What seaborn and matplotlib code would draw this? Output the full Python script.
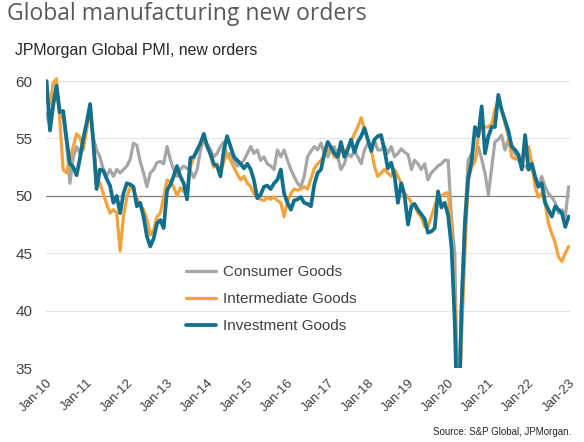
import pandas as pd
import numpy as np
import matplotlib
matplotlib.use("Agg")
import matplotlib.pyplot as plt
import matplotlib.dates as mdates
import seaborn as sns

# Monthly new orders indices, Jan 2010 - Jan 2023
consumer = (
    [57.2, 56.0, 58.6, 59.2, 57.0, 56.8, 54.6, 51.1, 53.4, 54.3, 53.7, 55.0]
    + [56.0, 57.2, 55.1, 54.0, 53.4, 52.3, 51.7, 52.3, 51.7, 52.3, 52.0, 52.3]
    + [52.6, 53.2, 54.6, 54.4, 53.0, 52.0, 50.8, 52.0, 52.3, 52.9, 53.0, 52.8]
    + [54.3, 53.1, 52.3, 51.7, 52.3, 52.6, 52.4, 52.2, 51.6, 52.3, 54.0, 54.9]
    + [54.5, 54.0, 53.4, 53.7, 54.3, 54.7, 53.4, 53.7, 53.1, 52.6, 52.8, 53.1]
    + [53.7, 54.3, 53.7, 54.0, 53.1, 53.4, 52.8, 52.6, 52.3, 54.0, 53.4, 54.0]
    + [53.1, 52.3, 51.7, 51.1, 50.8, 51.7, 53.4, 53.9, 54.3, 54.0, 54.6, 53.7]
    + [53.4, 54.0, 54.3, 53.4, 52.3, 52.8, 53.7, 53.4, 53.9, 53.4, 52.8, 54.0]
    + [54.6, 54.3, 54.9, 54.0, 54.0, 54.3, 53.7, 54.3, 53.4, 53.7, 54.1, 53.8]
    + [53.6, 52.3, 53.1, 52.8, 52.3, 52.8, 51.4, 52.0, 52.3, 52.6, 52.8, 53.1]
    + [53.1, 48.0, 45.0, 30.5, 41.0, 48.0, 53.1, 53.7, 53.1, 54.3, 53.2, 52.0]
    + [50.1, 52.5, 54.7, 54.9, 55.3, 54.0, 54.9, 54.0, 53.7, 53.1, 52.7, 52.6]
    + [52.3, 52.3, 51.7, 50.8, 51.7, 50.8, 50.2, 49.9, 49.4, 48.5, 48.8, 48.2]
    + [50.8]
)
intermediate = (
    [58.6, 58.0, 59.8, 60.2, 56.6, 52.3, 52.0, 53.2, 54.3, 55.4, 55.1, 54.0]
    + [55.8, 57.5, 55.0, 51.7, 51.1, 50.2, 49.3, 48.5, 48.8, 48.5, 45.2, 48.2]
    + [49.9, 50.8, 50.5, 49.8, 49.2, 48.8, 48.0, 46.6, 47.0, 48.2, 48.5, 49.9]
    + [51.4, 51.2, 50.8, 50.0, 50.7, 50.4, 50.0, 52.5, 53.4, 54.0, 54.5, 54.9]
    + [54.3, 53.5, 52.5, 52.8, 52.0, 53.0, 53.7, 53.1, 52.5, 51.9, 51.4, 51.7]
    + [51.1, 50.8, 50.2, 49.9, 49.7, 49.6, 49.9, 49.7, 49.9, 49.6, 49.4, 48.2]
    + [49.5, 50.2, 50.6, 50.5, 50.6, 50.8, 50.6, 51.5, 52.4, 52.8, 53.1, 53.5]
    + [53.9, 54.2, 53.4, 53.3, 54.0, 53.8, 54.2, 54.7, 55.4, 56.0, 56.8, 55.8]
    + [54.9, 54.0, 52.6, 51.7, 52.0, 52.3, 52.0, 51.7, 52.3, 51.7, 51.1, 50.2]
    + [49.9, 49.4, 49.1, 48.5, 48.2, 47.3, 47.3, 48.2, 49.1, 50.0, 50.0, 50.2]
    + [50.3, 47.0, 41.0, 29.0, 37.5, 45.0, 51.3, 52.5, 53.0, 55.2, 56.3, 56.0]
    + [56.0, 56.3, 57.5, 58.3, 57.5, 56.3, 55.2, 53.4, 53.2, 53.4, 52.6, 53.7]
    + [54.3, 52.8, 50.8, 49.9, 50.2, 49.4, 47.6, 46.7, 45.9, 44.7, 44.3, 45.0]
    + [45.6]
)
investment = (
    [60.0, 55.7, 57.8, 59.6, 57.3, 57.4, 55.0, 52.8, 52.5, 51.8, 53.3, 55.0]
    + [56.4, 58.0, 54.8, 50.6, 52.3, 52.2, 51.5, 50.9, 49.4, 50.0, 48.5, 50.2]
    + [51.1, 51.0, 50.8, 49.1, 49.4, 48.2, 46.5, 45.6, 46.3, 47.6, 47.9, 47.2]
    + [50.5, 51.0, 51.7, 52.6, 51.7, 51.1, 49.7, 53.3, 53.4, 54.0, 54.6, 55.4]
    + [54.3, 53.6, 52.8, 52.6, 51.7, 54.0, 55.2, 54.3, 53.4, 53.1, 52.8, 52.4]
    + [52.8, 52.3, 51.4, 49.8, 50.1, 50.8, 50.9, 50.6, 51.1, 51.4, 52.3, 50.2]
    + [49.4, 48.8, 49.6, 49.7, 49.9, 49.4, 49.3, 49.1, 51.0, 52.0, 52.3, 53.7]
    + [54.7, 54.2, 53.7, 53.4, 54.7, 53.4, 54.0, 54.9, 53.8, 54.7, 55.2, 55.9]
    + [54.9, 53.9, 54.9, 55.2, 55.3, 54.0, 52.4, 52.9, 51.7, 49.4, 51.1, 50.0]
    + [47.5, 49.1, 49.3, 48.8, 48.4, 48.0, 46.8, 46.9, 47.2, 50.4, 49.0, 49.4]
    + [48.3, 45.5, 39.0, 27.5, 40.0, 47.5, 51.5, 53.0, 56.0, 55.2, 57.8, 53.7]
    + [55.2, 56.0, 56.0, 58.8, 57.5, 56.6, 55.7, 54.3, 54.0, 53.6, 52.3, 55.3]
    + [52.3, 52.8, 51.7, 50.8, 51.1, 49.4, 48.8, 48.2, 49.1, 48.8, 48.5, 47.3]
    + [48.2]
)
dates = pd.date_range("2010-01-01", periods=len(investment), freq="MS")
series_names = ["Consumer Goods", "Intermediate Goods", "Investment Goods"]
y_ticks = [35, 40, 45, 50, 55, 60]

df = pd.DataFrame({
    "date": np.tile(dates, 3),
    "value": consumer + intermediate + investment,
    "series": np.repeat(series_names, len(dates)),
})

sns.set_style("white")
plt.rcParams["font.family"] = ["Liberation Sans", "DejaVu Sans"]

colors = {"Consumer Goods": "#A6A6A6",
          "Intermediate Goods": "#F3A33C",
          "Investment Goods": "#12708C"}
widths = {"Consumer Goods": 2.3, "Intermediate Goods": 2.3, "Investment Goods": 2.7}

fig = plt.figure(figsize=(5.84, 4.42), dpi=100)
ax = fig.add_axes([0.079, 0.167, 0.897, 0.66])

# gridlines
for t in y_ticks:
    if t == 50:
        ax.axhline(t, color="#7F7F7F", lw=0.9, zorder=1)
    else:
        ax.axhline(t, color="#E3E3E3", lw=0.8, zorder=1)

for name in series_names:
    sub = df[df["series"] == name]
    sns.lineplot(data=sub, x="date", y="value", ax=ax, color=colors[name],
                 lw=widths[name], label=name, zorder=3)

ax.set_ylim(35, 60.4)
ax.set_xlim(dates[0] - pd.Timedelta(days=4), dates[-1] + pd.Timedelta(days=12))
ax.set_yticks(y_ticks)
ax.xaxis.set_major_locator(mdates.YearLocator())
ax.xaxis.set_major_formatter(mdates.DateFormatter("%b-%y"))
ax.set_xlabel("")
ax.set_ylabel("")
for s in ax.spines.values():
    s.set_visible(False)
ax.tick_params(axis="y", length=0, pad=10, labelsize=11, labelcolor="#404040")
ax.tick_params(axis="x", length=0, pad=6, labelsize=9.5, labelcolor="#404040")
plt.setp(ax.get_xticklabels(), rotation=45, ha="right", rotation_mode="anchor")

leg = ax.legend(loc="upper left", bbox_to_anchor=(0.24, 0.40), frameon=False,
                fontsize=11, handlelength=2.0, labelspacing=0.85,
                handletextpad=0.45, labelcolor="#404040")

fig.text(0.012, 0.995, "Global manufacturing new orders", fontsize=16.5,
         color="#595959", va="top", ha="left", family=["Open Sans", "DejaVu Sans"])
fig.text(0.026, 0.902, "JPMorgan Global PMI, new orders", fontsize=11.4,
         color="#262626", va="top", ha="left")
fig.text(0.978, 0.022, "Source: S&P Global, JPMorgan.", fontsize=7,
         color="#262626", va="center", ha="right")

fig.savefig("out.png", dpi=100)
